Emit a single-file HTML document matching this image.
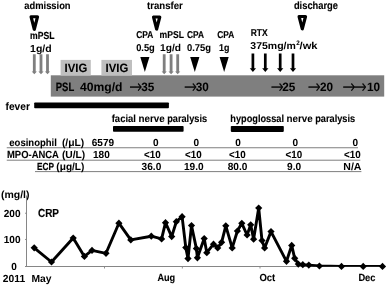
<!DOCTYPE html>
<html><head><meta charset="utf-8"><title>Clinical course</title>
<style>
html,body{margin:0;padding:0;background:#fff;}
svg{display:block;filter:blur(0.3px);}
text{text-rendering:geometricPrecision;font-family:'Liberation Sans', 'DejaVu Sans', sans-serif;font-weight:bold;fill:#000;}
</style></head>
<body>
<svg width="387" height="285" viewBox="0 0 387 285">
<rect x="0" y="0" width="387" height="285" fill="#fff"/>
<rect x="50.8" y="75.3" width="333.4" height="21.3" fill="#7f7f7f"/>
<rect x="60.6" y="59.9" width="30.2" height="15.6" fill="#bfbfbf"/>
<rect x="101.4" y="59.9" width="30.6" height="15.6" fill="#bfbfbf"/>
<path d="M31.10 16.75 L37.50 16.75 L34.30 29.30 Z" fill="#fff" stroke="#000" stroke-width="3.2" stroke-linejoin="round"/>
<path d="M153.55 17.00 L159.75 17.00 L156.65 29.00 Z" fill="#fff" stroke="#000" stroke-width="3.2" stroke-linejoin="round"/>
<path d="M299.10 16.50 L305.50 16.50 L302.30 28.80 Z" fill="#fff" stroke="#000" stroke-width="3.2" stroke-linejoin="round"/>
<path d="M32.90 54.2 H35.70 V71.40 H36.90 L34.30 74.2 L31.70 71.40 H32.90 Z" fill="#7f7f7f"/>
<path d="M39.60 54.2 H42.40 V71.40 H43.60 L41.00 74.2 L38.40 71.40 H39.60 Z" fill="#7f7f7f"/>
<path d="M46.10 54.2 H48.90 V71.40 H50.10 L47.50 74.2 L44.90 71.40 H46.10 Z" fill="#7f7f7f"/>
<path d="M162.80 54.2 H165.60 V71.40 H166.80 L164.20 74.2 L161.60 71.40 H162.80 Z" fill="#7f7f7f"/>
<path d="M169.70 54.2 H172.50 V71.40 H173.70 L171.10 74.2 L168.50 71.40 H169.70 Z" fill="#7f7f7f"/>
<path d="M176.30 54.2 H179.10 V71.40 H180.30 L177.70 74.2 L175.10 71.40 H176.30 Z" fill="#7f7f7f"/>
<path d="M251.55 53.5 H254.25 V68.30 H256.05 L252.90 72.0 L249.75 68.30 H251.55 Z" fill="#000"/>
<path d="M263.95 53.5 H266.65 V68.30 H268.45 L265.30 72.0 L262.15 68.30 H263.95 Z" fill="#000"/>
<path d="M278.85 53.5 H281.55 V68.30 H283.35 L280.20 72.0 L277.05 68.30 H278.85 Z" fill="#000"/>
<path d="M291.65 53.5 H294.35 V68.30 H296.15 L293.00 72.0 L289.85 68.30 H291.65 Z" fill="#000"/>
<path d="M140.3 56.9 H149.4 L144.85 72 Z" fill="#000"/>
<path d="M190.2 56.9 H199.4 L194.80 72 Z" fill="#000"/>
<path d="M219.6 56.9 H228.7 L224.15 72 Z" fill="#000"/>
<rect x="34.2" y="102.5" width="134.70" height="5.70" rx="0.8" fill="#000"/>
<rect x="113.0" y="125.9" width="70.60" height="5.90" rx="0.8" fill="#000"/>
<rect x="230.8" y="126.0" width="53.00" height="5.90" rx="0.8" fill="#000"/>
<rect x="6.75" y="147.25" width="351.25" height="1.0" fill="#7f7f7f"/>
<rect x="6.75" y="159.70" width="353.55" height="1.0" fill="#7f7f7f"/>
<rect x="35" y="171.10" width="326.40" height="1.0" fill="#7f7f7f"/>
<text x="24.30" y="8.60" font-size="10.34" textLength="46.28" lengthAdjust="spacingAndGlyphs" stroke="#000" stroke-width="0.10">admission</text>
<text x="147.00" y="8.60" font-size="10.34" textLength="35.85" lengthAdjust="spacingAndGlyphs" stroke="#000" stroke-width="0.07">transfer</text>
<text x="293.90" y="8.60" font-size="10.53" textLength="44.13" lengthAdjust="spacingAndGlyphs" stroke="#000" stroke-width="0.11">discharge</text>
<text x="30.10" y="38.90" font-size="10.25" textLength="24.43" lengthAdjust="spacingAndGlyphs" stroke="#000" stroke-width="0.16">mPSL</text>
<text x="30.10" y="51.80" font-size="10.25" textLength="21.55" lengthAdjust="spacingAndGlyphs" stroke="#000" stroke-width="0.00">1g/d</text>
<text x="136.20" y="38.10" font-size="9.96" textLength="16.96" lengthAdjust="spacingAndGlyphs" stroke="#000" stroke-width="0.16">CPA</text>
<text x="136.20" y="51.00" font-size="9.96" textLength="18.60" lengthAdjust="spacingAndGlyphs" stroke="#000" stroke-width="0.07">0.5g</text>
<text x="159.50" y="38.10" font-size="9.96" textLength="24.40" lengthAdjust="spacingAndGlyphs" stroke="#000" stroke-width="0.14">mPSL</text>
<text x="160.00" y="51.00" font-size="9.96" textLength="20.95" lengthAdjust="spacingAndGlyphs" stroke="#000" stroke-width="0.00">1g/d</text>
<text x="187.00" y="38.10" font-size="9.96" textLength="16.96" lengthAdjust="spacingAndGlyphs" stroke="#000" stroke-width="0.16">CPA</text>
<text x="187.00" y="51.00" font-size="9.96" textLength="23.98" lengthAdjust="spacingAndGlyphs" stroke="#000" stroke-width="0.06">0.75g</text>
<text x="217.25" y="38.10" font-size="9.96" textLength="16.96" lengthAdjust="spacingAndGlyphs" stroke="#000" stroke-width="0.16">CPA</text>
<text x="219.00" y="51.00" font-size="9.96" textLength="10.40" lengthAdjust="spacingAndGlyphs" stroke="#000" stroke-width="0.11">1g</text>
<text x="250.70" y="35.60" font-size="9.96" textLength="16.95" lengthAdjust="spacingAndGlyphs" stroke="#000" stroke-width="0.15">RTX</text>
<text x="250.30" y="48.50" font-size="9.96" textLength="45.60" lengthAdjust="spacingAndGlyphs" stroke="#000" stroke-width="0.00">375mg/m</text>
<text x="296.30" y="44.90" font-size="6.49" textLength="3.50" lengthAdjust="spacingAndGlyphs" stroke="#000" stroke-width="0.03">2</text>
<text x="299.60" y="48.50" font-size="9.96" textLength="17.98" lengthAdjust="spacingAndGlyphs" stroke="#000" stroke-width="0.00">/wk</text>
<text x="64.60" y="72.00" font-size="12.13" textLength="22.74" lengthAdjust="spacingAndGlyphs" stroke="#000" stroke-width="0.06">IVIG</text>
<text x="105.60" y="72.00" font-size="12.13" textLength="22.74" lengthAdjust="spacingAndGlyphs" stroke="#000" stroke-width="0.06">IVIG</text>
<text x="55.80" y="91.40" font-size="12.13" textLength="18.42" lengthAdjust="spacingAndGlyphs" stroke="#000" stroke-width="0.22">PSL</text>
<text x="80.00" y="91.40" font-size="12.13" textLength="42.53" lengthAdjust="spacingAndGlyphs" stroke="#000" stroke-width="0.00">40mg/d</text>
<text x="129.20" y="93.40" font-size="19.0" textLength="12.9" lengthAdjust="spacingAndGlyphs" style="font-family:'DejaVu Sans Light','DejaVu Sans','Liberation Sans',sans-serif;font-weight:200" stroke="#000" stroke-width="0.35">→</text>
<text x="141.20" y="91.40" font-size="12.13" textLength="13.08" lengthAdjust="spacingAndGlyphs" stroke="#000" stroke-width="0.03">35</text>
<text x="184.00" y="93.40" font-size="19.0" textLength="12.9" lengthAdjust="spacingAndGlyphs" style="font-family:'DejaVu Sans Light','DejaVu Sans','Liberation Sans',sans-serif;font-weight:200" stroke="#000" stroke-width="0.35">→</text>
<text x="195.80" y="91.40" font-size="12.13" textLength="13.08" lengthAdjust="spacingAndGlyphs" stroke="#000" stroke-width="0.03">30</text>
<text x="270.65" y="93.40" font-size="19.0" textLength="12.9" lengthAdjust="spacingAndGlyphs" style="font-family:'DejaVu Sans Light','DejaVu Sans','Liberation Sans',sans-serif;font-weight:200" stroke="#000" stroke-width="0.35">→</text>
<text x="282.20" y="91.40" font-size="12.13" textLength="13.08" lengthAdjust="spacingAndGlyphs" stroke="#000" stroke-width="0.03">25</text>
<text x="307.65" y="93.40" font-size="19.0" textLength="12.9" lengthAdjust="spacingAndGlyphs" style="font-family:'DejaVu Sans Light','DejaVu Sans','Liberation Sans',sans-serif;font-weight:200" stroke="#000" stroke-width="0.35">→</text>
<text x="320.00" y="91.40" font-size="12.13" textLength="13.08" lengthAdjust="spacingAndGlyphs" stroke="#000" stroke-width="0.03">20</text>
<text x="342.40" y="93.40" font-size="19.0" textLength="12.9" lengthAdjust="spacingAndGlyphs" style="font-family:'DejaVu Sans Light','DejaVu Sans','Liberation Sans',sans-serif;font-weight:200" stroke="#000" stroke-width="0.35">→</text>
<text x="353.70" y="93.40" font-size="19.0" textLength="12.9" lengthAdjust="spacingAndGlyphs" style="font-family:'DejaVu Sans Light','DejaVu Sans','Liberation Sans',sans-serif;font-weight:200" stroke="#000" stroke-width="0.35">→</text>
<text x="367.00" y="91.40" font-size="12.13" textLength="13.08" lengthAdjust="spacingAndGlyphs" stroke="#000" stroke-width="0.03">10</text>
<text x="5.50" y="110.00" font-size="10.81" textLength="24.38" lengthAdjust="spacingAndGlyphs" stroke="#000" stroke-width="0.06">fever</text>
<text x="111.70" y="122.00" font-size="10.39" textLength="24.28" lengthAdjust="spacingAndGlyphs" stroke="#000" stroke-width="0.09">facial</text>
<text x="138.48" y="122.00" font-size="10.39" textLength="26.22" lengthAdjust="spacingAndGlyphs" stroke="#000" stroke-width="0.05">nerve</text>
<text x="167.18" y="122.00" font-size="10.39" textLength="39.94" lengthAdjust="spacingAndGlyphs" stroke="#000" stroke-width="0.11">paralysis</text>
<text x="230.30" y="122.00" font-size="10.39" textLength="53.71" lengthAdjust="spacingAndGlyphs" stroke="#000" stroke-width="0.11">hypoglossal</text>
<text x="286.51" y="122.00" font-size="10.39" textLength="26.22" lengthAdjust="spacingAndGlyphs" stroke="#000" stroke-width="0.05">nerve</text>
<text x="315.21" y="122.00" font-size="10.39" textLength="39.94" lengthAdjust="spacingAndGlyphs" stroke="#000" stroke-width="0.11">paralysis</text>
<text x="9.30" y="145.70" font-size="10.34" textLength="47.56" lengthAdjust="spacingAndGlyphs" stroke="#000" stroke-width="0.08">eosinophil</text>
<text x="61.90" y="145.70" font-size="10.34" textLength="22.42" lengthAdjust="spacingAndGlyphs" stroke="#000" stroke-width="0.00">(/μL)</text>
<text x="91.75" y="145.70" font-size="10.34" textLength="22.29" lengthAdjust="spacingAndGlyphs" stroke="#000" stroke-width="0.03">6579</text>
<text x="153.00" y="145.70" font-size="10.34" textLength="5.58" lengthAdjust="spacingAndGlyphs" stroke="#000" stroke-width="0.03">0</text>
<text x="193.60" y="145.70" font-size="10.34" textLength="5.58" lengthAdjust="spacingAndGlyphs" stroke="#000" stroke-width="0.03">0</text>
<text x="235.20" y="145.70" font-size="10.34" textLength="5.58" lengthAdjust="spacingAndGlyphs" stroke="#000" stroke-width="0.03">0</text>
<text x="292.50" y="145.70" font-size="10.34" textLength="5.58" lengthAdjust="spacingAndGlyphs" stroke="#000" stroke-width="0.03">0</text>
<text x="352.60" y="145.70" font-size="10.34" textLength="5.58" lengthAdjust="spacingAndGlyphs" stroke="#000" stroke-width="0.03">0</text>
<text x="7.00" y="158.10" font-size="10.34" textLength="51.90" lengthAdjust="spacingAndGlyphs" stroke="#000" stroke-width="0.09">MPO-ANCA</text>
<text x="61.90" y="158.10" font-size="10.34" textLength="23.41" lengthAdjust="spacingAndGlyphs" stroke="#000" stroke-width="0.01">(U/L)</text>
<text x="93.00" y="158.10" font-size="10.34" textLength="16.74" lengthAdjust="spacingAndGlyphs" stroke="#000" stroke-width="0.03">180</text>
<text x="144.00" y="158.10" font-size="10.34" textLength="16.63" lengthAdjust="spacingAndGlyphs" stroke="#000" stroke-width="0.05">&lt;10</text>
<text x="185.10" y="158.10" font-size="10.34" textLength="16.63" lengthAdjust="spacingAndGlyphs" stroke="#000" stroke-width="0.05">&lt;10</text>
<text x="229.00" y="158.10" font-size="10.34" textLength="16.63" lengthAdjust="spacingAndGlyphs" stroke="#000" stroke-width="0.05">&lt;10</text>
<text x="285.50" y="158.10" font-size="10.34" textLength="16.63" lengthAdjust="spacingAndGlyphs" stroke="#000" stroke-width="0.05">&lt;10</text>
<text x="344.00" y="158.10" font-size="10.34" textLength="16.63" lengthAdjust="spacingAndGlyphs" stroke="#000" stroke-width="0.05">&lt;10</text>
<text x="37.00" y="170.00" font-size="10.34" textLength="16.89" lengthAdjust="spacingAndGlyphs" stroke="#000" stroke-width="0.21">ECP</text>
<text x="56.37" y="170.00" font-size="10.34" textLength="27.98" lengthAdjust="spacingAndGlyphs" stroke="#000" stroke-width="0.03">(μg/L)</text>
<text x="141.60" y="170.00" font-size="10.34" textLength="19.67" lengthAdjust="spacingAndGlyphs" stroke="#000" stroke-width="0.02">36.0</text>
<text x="183.90" y="170.00" font-size="10.34" textLength="19.67" lengthAdjust="spacingAndGlyphs" stroke="#000" stroke-width="0.02">19.0</text>
<text x="227.75" y="170.00" font-size="10.34" textLength="19.67" lengthAdjust="spacingAndGlyphs" stroke="#000" stroke-width="0.02">80.0</text>
<text x="287.00" y="170.00" font-size="10.34" textLength="14.09" lengthAdjust="spacingAndGlyphs" stroke="#000" stroke-width="0.02">9.0</text>
<text x="343.30" y="170.00" font-size="10.34" textLength="18.15" lengthAdjust="spacingAndGlyphs" stroke="#000" stroke-width="0.00">N/A</text>
<text x="0.90" y="198.40" font-size="10.34" textLength="28.60" lengthAdjust="spacingAndGlyphs" stroke="#000" stroke-width="0.00">(mg/l)</text>
<text x="3.75" y="217.20" font-size="10.34" textLength="16.74" lengthAdjust="spacingAndGlyphs" stroke="#000" stroke-width="0.03">200</text>
<text x="3.75" y="243.30" font-size="10.34" textLength="16.74" lengthAdjust="spacingAndGlyphs" stroke="#000" stroke-width="0.03">100</text>
<text x="11.30" y="269.60" font-size="10.34" textLength="5.58" lengthAdjust="spacingAndGlyphs" stroke="#000" stroke-width="0.03">0</text>
<text x="38.00" y="217.20" font-size="11.66" textLength="21.00" lengthAdjust="spacingAndGlyphs" stroke="#000" stroke-width="0.15">CRP</text>
<text x="2.80" y="281.60" font-size="10.34" textLength="22.30" lengthAdjust="spacingAndGlyphs" stroke="#000" stroke-width="0.01">2011</text>
<text x="31.50" y="281.60" font-size="10.34" textLength="20.06" lengthAdjust="spacingAndGlyphs" stroke="#000" stroke-width="0.00">May</text>
<text x="157.40" y="280.60" font-size="10.34" textLength="17.79" lengthAdjust="spacingAndGlyphs" stroke="#000" stroke-width="0.12">Aug</text>
<text x="259.40" y="280.60" font-size="10.34" textLength="15.85" lengthAdjust="spacingAndGlyphs" stroke="#000" stroke-width="0.08">Oct</text>
<text x="358.40" y="281.10" font-size="10.34" textLength="17.08" lengthAdjust="spacingAndGlyphs" stroke="#000" stroke-width="0.10">Dec</text>
<rect x="26" y="195.5" width="1" height="71.5" fill="#868686"/>
<rect x="25" y="266" width="358.5" height="1" fill="#868686"/>
<rect x="25" y="212.75" width="1.8" height="0.9" fill="#868686"/>
<rect x="25" y="238.95" width="1.8" height="0.9" fill="#868686"/>
<rect x="104.05" y="266.5" width="0.9" height="2" fill="#868686"/>
<rect x="181.85" y="266.5" width="0.9" height="2" fill="#868686"/>
<rect x="259.55" y="266.5" width="0.9" height="2" fill="#868686"/>
<clipPath id="plot"><rect x="26" y="190" width="361" height="76.8"/></clipPath>
<path d="M34.2 247.8 L51.5 262.0 L73.2 238.0 L84.4 256.4 L92.0 250.4 L106.0 253.3 L118.9 223.2 L130.8 239.9 L151.3 236.2 L161.6 238.9 L165.5 222.7 L171.7 236.6 L176.3 221.7 L182.1 216.7 L185.8 247.6 L188.0 258.6 L191.5 225.5 L196.4 248.6 L197.4 257.8 L204.2 238.6 L206.8 252.7 L213.5 244.2 L217.7 247.9 L221.6 242.3 L225.8 225.8 L232.2 247.9 L237.4 231.0 L241.8 223.3 L247.1 235.0 L250.7 224.8 L253.6 239.2 L258.7 208.0 L262.0 240.6 L264.6 248.0 L271.0 231.6 L286.5 261.3 L291.7 245.4 L294.7 258.3 L298.3 264.1 L302.8 264.7 L308.8 265.1 L319.4 266.0 L341.5 266.4 L363.2 266.4 L382.5 266.4" fill="none" stroke="#000" stroke-width="2.9" stroke-linejoin="round" clip-path="url(#plot)"/>
<path d="M34.2 244.2 L37.8 247.8 L34.2 251.4 L30.6 247.8 Z" fill="#000"/>
<path d="M51.5 258.4 L55.1 262.0 L51.5 265.6 L47.9 262.0 Z" fill="#000"/>
<path d="M73.2 234.4 L76.8 238.0 L73.2 241.6 L69.6 238.0 Z" fill="#000"/>
<path d="M84.4 252.8 L88.0 256.4 L84.4 260.0 L80.8 256.4 Z" fill="#000"/>
<path d="M92.0 246.8 L95.6 250.4 L92.0 254.0 L88.4 250.4 Z" fill="#000"/>
<path d="M106.0 249.7 L109.6 253.3 L106.0 256.9 L102.4 253.3 Z" fill="#000"/>
<path d="M118.9 219.6 L122.5 223.2 L118.9 226.8 L115.3 223.2 Z" fill="#000"/>
<path d="M130.8 236.3 L134.4 239.9 L130.8 243.5 L127.2 239.9 Z" fill="#000"/>
<path d="M151.3 232.6 L154.9 236.2 L151.3 239.8 L147.7 236.2 Z" fill="#000"/>
<path d="M161.6 235.3 L165.2 238.9 L161.6 242.5 L158.0 238.9 Z" fill="#000"/>
<path d="M165.5 219.1 L169.1 222.7 L165.5 226.3 L161.9 222.7 Z" fill="#000"/>
<path d="M171.7 233.0 L175.3 236.6 L171.7 240.2 L168.1 236.6 Z" fill="#000"/>
<path d="M176.3 218.1 L179.9 221.7 L176.3 225.3 L172.7 221.7 Z" fill="#000"/>
<path d="M182.1 213.1 L185.7 216.7 L182.1 220.3 L178.5 216.7 Z" fill="#000"/>
<path d="M185.8 244.0 L189.4 247.6 L185.8 251.2 L182.2 247.6 Z" fill="#000"/>
<path d="M188.0 255.0 L191.6 258.6 L188.0 262.2 L184.4 258.6 Z" fill="#000"/>
<path d="M191.5 221.9 L195.1 225.5 L191.5 229.1 L187.9 225.5 Z" fill="#000"/>
<path d="M196.4 245.0 L200.0 248.6 L196.4 252.2 L192.8 248.6 Z" fill="#000"/>
<path d="M197.4 254.2 L201.0 257.8 L197.4 261.4 L193.8 257.8 Z" fill="#000"/>
<path d="M204.2 235.0 L207.8 238.6 L204.2 242.2 L200.6 238.6 Z" fill="#000"/>
<path d="M206.8 249.1 L210.4 252.7 L206.8 256.3 L203.2 252.7 Z" fill="#000"/>
<path d="M213.5 240.6 L217.1 244.2 L213.5 247.8 L209.9 244.2 Z" fill="#000"/>
<path d="M217.7 244.3 L221.3 247.9 L217.7 251.5 L214.1 247.9 Z" fill="#000"/>
<path d="M221.6 238.7 L225.2 242.3 L221.6 245.9 L218.0 242.3 Z" fill="#000"/>
<path d="M225.8 222.2 L229.4 225.8 L225.8 229.4 L222.2 225.8 Z" fill="#000"/>
<path d="M232.2 244.3 L235.8 247.9 L232.2 251.5 L228.6 247.9 Z" fill="#000"/>
<path d="M237.4 227.4 L241.0 231.0 L237.4 234.6 L233.8 231.0 Z" fill="#000"/>
<path d="M241.8 219.7 L245.4 223.3 L241.8 226.9 L238.2 223.3 Z" fill="#000"/>
<path d="M247.1 231.4 L250.7 235.0 L247.1 238.6 L243.5 235.0 Z" fill="#000"/>
<path d="M250.7 221.2 L254.3 224.8 L250.7 228.4 L247.1 224.8 Z" fill="#000"/>
<path d="M253.6 235.6 L257.2 239.2 L253.6 242.8 L250.0 239.2 Z" fill="#000"/>
<path d="M258.7 204.4 L262.3 208.0 L258.7 211.6 L255.1 208.0 Z" fill="#000"/>
<path d="M262.0 237.0 L265.6 240.6 L262.0 244.2 L258.4 240.6 Z" fill="#000"/>
<path d="M264.6 244.4 L268.2 248.0 L264.6 251.6 L261.0 248.0 Z" fill="#000"/>
<path d="M271.0 228.0 L274.6 231.6 L271.0 235.2 L267.4 231.6 Z" fill="#000"/>
<path d="M286.5 257.7 L290.1 261.3 L286.5 264.9 L282.9 261.3 Z" fill="#000"/>
<path d="M291.7 241.8 L295.3 245.4 L291.7 249.0 L288.1 245.4 Z" fill="#000"/>
<path d="M294.7 254.7 L298.3 258.3 L294.7 261.9 L291.1 258.3 Z" fill="#000"/>
<path d="M298.3 260.5 L301.9 264.1 L298.3 267.7 L294.7 264.1 Z" fill="#000"/>
<path d="M302.8 261.1 L306.4 264.7 L302.8 268.3 L299.2 264.7 Z" fill="#000"/>
<path d="M308.8 261.5 L312.4 265.1 L308.8 268.7 L305.2 265.1 Z" fill="#000"/>
<path d="M319.4 262.4 L323.0 266.0 L319.4 269.6 L315.8 266.0 Z" fill="#000"/>
<path d="M341.5 262.8 L345.1 266.4 L341.5 270.0 L337.9 266.4 Z" fill="#000"/>
<path d="M363.2 262.8 L366.8 266.4 L363.2 270.0 L359.6 266.4 Z" fill="#000"/>
<path d="M382.5 262.8 L386.1 266.4 L382.5 270.0 L378.9 266.4 Z" fill="#000"/>
</svg>
</body></html>
